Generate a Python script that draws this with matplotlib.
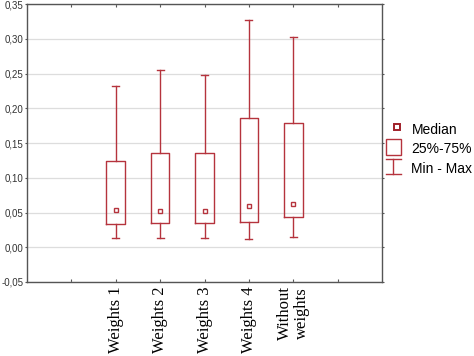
import matplotlib
matplotlib.use("Agg")
import matplotlib.pyplot as plt
from matplotlib.legend_handler import HandlerBase
from matplotlib.lines import Line2D
from matplotlib.patches import Rectangle

# ---------------------------------------------------------------------------
# DATA
# ---------------------------------------------------------------------------
labels   = ["Weights 1", "Weights 2", "Weights 3", "Weights 4", "Without\nweights"]
medians  = [0.053, 0.052, 0.052, 0.060, 0.062]
q1       = [0.033, 0.035, 0.035, 0.036, 0.044]
q3       = [0.124, 0.136, 0.136, 0.186, 0.179]
mins     = [0.013, 0.014, 0.014, 0.012, 0.015]
maxs     = [0.232, 0.256, 0.248, 0.327, 0.303]
yticks   = [-0.05, 0.00, 0.05, 0.10, 0.15, 0.20, 0.25, 0.30, 0.35]

RED = "#b5333d"
plt.rcParams["font.family"] = ["Liberation Sans", "DejaVu Sans"]


# legend symbols (sizes in points)
class MedianHandler(HandlerBase):
    def create_artists(self, legend, orig, x0, y0, w, h, fontsize, trans):
        m = Line2D([x0 + w / 2 + 2.5], [y0 + h / 2], ls="none", marker="s",
                   ms=4.2, mfc="white", mec="#a0202a", mew=1.4, transform=trans)
        return [m]


class BoxHandler(HandlerBase):
    def create_artists(self, legend, orig, x0, y0, w, h, fontsize, trans):
        r = Rectangle((x0 + w / 2 - 5.4, y0 + h / 2 - 5.8), 10.8, 11.6,
                      facecolor="white", edgecolor=RED, lw=1.0, transform=trans)
        return [r]


class MinMaxHandler(HandlerBase):
    def create_artists(self, legend, orig, x0, y0, w, h, fontsize, trans):
        cx, cy = x0 + w / 2, y0 + h / 2
        v = Line2D([cx, cx], [cy - 5.4, cy + 5.4], color=RED, lw=1.0, transform=trans)
        t = Line2D([cx - 5.4, cx + 5.4], [cy + 5.4, cy + 5.4], color=RED, lw=1.0, transform=trans)
        b = Line2D([cx - 5.4, cx + 5.4], [cy - 5.4, cy - 5.4], color=RED, lw=1.0, transform=trans)
        return [v, t, b]


fig = plt.figure(figsize=(4.74, 3.56), dpi=100)
ax = fig.add_axes([0.057, 0.208, 0.749, 0.780])

positions = list(range(2, 2 + len(labels)))
stats = []
for i in range(len(labels)):
    stats.append({"med": medians[i], "q1": q1[i], "q3": q3[i],
                  "whislo": mins[i], "whishi": maxs[i], "fliers": []})

ax.bxp(stats, positions=positions, widths=0.42, showfliers=False,
       boxprops=dict(color=RED, lw=1.0),
       whiskerprops=dict(color=RED, lw=1.0),
       capprops=dict(color=RED, lw=1.0),
       medianprops=dict(lw=0),
       capwidths=0.16, zorder=3)
ax.plot(positions, medians, ls="none", marker="s", ms=3.5, mfc="white",
        mec=RED, mew=1.0, zorder=4)

ax.set_xlim(0, len(labels) + 3)
ax.set_xticks(range(1, len(labels) + 3))
ax.set_xticklabels([""] + labels + [""], rotation=90, fontsize=12,
                   family=["Liberation Serif", "DejaVu Serif"],
                   linespacing=1.1)
ax.set_ylim(-0.05, 0.35)
ax.set_yticks(yticks)
ax.set_yticklabels([f"{v:.2f}".replace(".", ",") for v in yticks], fontsize=7)
ax.grid(axis="y", color="#dddddd", lw=0.9, zorder=0)
ax.set_axisbelow(True)

for s in ax.spines.values():
    s.set_color("#555555")
    s.set_linewidth(1.0)
ax.tick_params(axis="x", direction="in", length=2.5, color="#555555",
               top=True, pad=3)
ax.tick_params(axis="y", length=1.5, color="#555555", pad=1,
               labelcolor="#333333")
ax.tick_params(axis="y", which="major", right=True, direction="in")
ax.tick_params(axis="y", left=True, direction="out")

h_med = Line2D([], [])
h_box = Line2D([], [])
h_mm = Line2D([], [])
ax.legend([h_med, h_box, h_mm], ["Median", "25%-75%", "Min - Max"],
          handler_map={h_med: MedianHandler(), h_box: BoxHandler(),
                       h_mm: MinMaxHandler()},
          loc="center left", bbox_to_anchor=(1.0, 0.478), frameon=False,
          fontsize=10, handlelength=1.2, handleheight=0.85, handletextpad=0.72,
          labelspacing=0.4, borderpad=0.2, borderaxespad=0.0)

fig.savefig("out.png", dpi=100)
